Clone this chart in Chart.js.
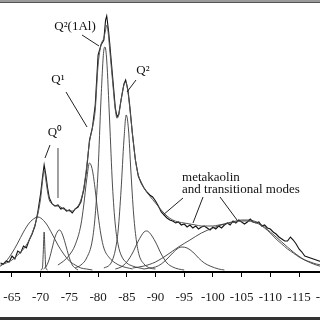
<!DOCTYPE html>
<html>
<head>
<meta charset="utf-8">
<script src="https://cdn.jsdelivr.net/npm/chart.js@4/dist/chart.umd.min.js"></script>
<style>
  html, body { margin: 0; padding: 0; background: #fff; }
  #wrap { position: relative; width: 320px; height: 320px; overflow: hidden; background: #fff; }
  #c { position: absolute; left: 0; top: 0; }
  #topband { position: absolute; left: 0; top: 0; width: 320px; height: 2px; background: #9a9a9a; border-bottom: 1px solid #555; }
  #botband { position: absolute; left: 0; top: 317px; width: 320px; height: 3px; background: #333; }
</style>
</head>
<body>
<div id="wrap">
  <canvas id="c" width="345" height="320"></canvas>
  <div id="topband"></div>
  <div id="botband"></div>
</div>
<script>
// ---- tick labels (chemical shift, ppm) ----
const tickValues = [-65, -70, -75, -80, -85, -90, -95, -100, -105, -110, -115, -120];

// ---- experimental spectrum ----
const expPpm = [-63,-63.5,-64,-64.5,-65,-65.5,-66,-66.5,-67,-67.5,-68,-68.5,-69,-69.5,-70,-70.3,-70.6,-70.9,-71.2,-71.5,-72,-72.5,-73,-73.5,-74,-74.5,-75,-75.5,-76,-76.5,-77,-77.5,-78,-78.5,-79,-79.5,-80,-80.5,-81,-81.3,-81.5,-81.8,-82,-82.5,-83,-83.3,-83.6,-84,-84.5,-84.8,-85.2,-85.5,-86,-86.5,-87,-87.5,-88,-88.5,-89,-89.5,-90,-90.5,-91,-91.5,-92,-92.5,-93,-93.5,-94,-94.5,-95,-95.5,-96,-96.5,-97,-97.5,-98,-98.5,-99,-99.5,-100,-100.5,-101,-101.5,-102,-102.5,-103,-103.5,-104,-104.5,-105,-105.5,-106,-106.5,-107,-107.5,-108,-108.5,-109,-109.5,-110,-110.5,-111,-111.5,-112,-112.5,-113,-113.5,-114,-114.5,-115,-115.5,-116,-116.5,-117,-117.5,-118,-118.5,-119];
const expInt = [7,6,9,8,14,11,19,17,24,22,30,36,44,58,77,92,105,95,82,72,66,64,65,61,62,59,60,57,61,63,68,80,100,130,142,165,215,225,230,250,254,240,228,195,162,153,156,170,186,190,180,165,135,110,94,87,82,78,75,73,69,64,58,55,52,50,49,47,48,45,46,43,45,42,44,41,43,44,42,40,43,41,44,42,45,47,45,49,47,50,48,46,48,51,48,47,48,44,45,42,41,38,36,33,31,29,29,33,30,26,21,18,14,13,12,11,10,9,8,8,7];

// ---- fitted sum ----
const fitPpm = [-63,-64,-65,-66,-67,-68,-69,-69.5,-70,-70.3,-70.6,-70.9,-71.2,-71.5,-72,-72.5,-73,-73.5,-74,-74.5,-75,-75.5,-76,-76.5,-77,-77.5,-78,-78.5,-79,-79.5,-80,-80.5,-81,-81.3,-81.5,-81.8,-82,-82.5,-83,-83.3,-83.6,-84,-84.5,-84.8,-85.2,-85.5,-86,-86.5,-87,-87.5,-88,-89,-90,-91,-92,-93,-94,-95,-96,-97,-98,-99,-100,-101,-102,-103,-104,-105,-106,-107,-108,-109,-110,-111,-112,-113,-114,-115,-116,-117,-118,-119];
const fitInt = [5,7,10,15,21,30,45,56,72,88,100,90,78,70,66,64,64,63,61,60,59,59,61,64,70,82,103,128,142,160,205,225,232,240,245,235,222,190,160,152,155,170,185,188,178,163,135,110,95,88,82,74,67,60,54,50,48,47,46,45,44,44,44,45,46,47,48,49,49,48,46,42,37,31,26,21,17,13,10,8,6,5];

// ---- fitted components ----
const c1Ppm = [-62,-63,-64,-65,-66,-67,-68,-69,-69.5,-70,-71,-72,-73,-74,-75,-76,-77,-78,-79];
const c1Int = [2,4,9,17,27,38,47,52,53,52,46,36,25,16,9,5,2,1,0];
const c2Ppm = [-70,-70.3,-70.45,-70.6,-70.75,-70.9,-71.2];
const c2Int = [0,2,18,38,18,2,0];
const c3Ppm = [-70.5,-71,-71.5,-72,-72.5,-73,-73.2,-73.5,-74,-74.5,-75,-75.5,-76,-76.5];
const c3Int = [1,4,11,22,33,39,40,39,32,22,12,5,2,0];
const q1Ppm = [-73,-74,-75,-76,-77,-77.5,-78,-78.5,-79,-79.5,-80,-80.5,-81,-82,-83,-84,-86];
const q1Int = [5,9,15,25,45,65,90,107,100,80,55,35,22,12,7,4,1];
const q2alPpm = [-76,-77,-78,-79,-79.5,-80,-80.5,-81,-81.2,-81.5,-82,-82.5,-83,-83.5,-84,-85,-86,-88];
const q2alInt = [2,5,12,30,55,100,170,220,223,210,150,85,45,25,15,7,4,1];
const q2Ppm = [-81,-82,-82.5,-83,-83.5,-84,-84.5,-84.9,-85.3,-85.7,-86.2,-86.7,-87.2,-88,-89,-90];
const q2Int = [2,5,10,20,40,80,130,155,140,100,55,28,14,6,2,1];
const c7Ppm = [-83,-84,-85,-86,-87,-88,-88.5,-89,-90,-91,-92,-93,-94,-95];
const c7Int = [1,3,8,17,29,38,39,37,28,16,7,3,1,0];
const c8Ppm = [-88,-89,-90,-91,-92,-93,-94,-94.6,-95.5,-96.5,-97.5,-98.5,-99.5,-101,-102];
const c8Int = [1,2,3,6,11,17,22,23,22,18,12,7,4,1,0];
const c9Ppm = [-86,-88,-90,-92,-94,-96,-98,-100,-102,-104,-105,-106,-108,-110,-112,-114,-116,-118,-120,-122];
const c9Int = [2,4,8,15,23,30,37,42,46,49,50,50,47,38,28,18,10,5,2,1];

const pts = (xs, ys) => xs.map((x, i) => ({ x: x, y: ys[i] }));

const compStyle = { borderColor: '#3a3a3a', borderWidth: 0.9, pointRadius: 0, fill: false, cubicInterpolationMode: 'monotone' };

const annotations = {
  texts: [
    { t: 'Q\u2070', x: -72.49, y: 137, align: 'center' },
    { t: 'Q\u00b9', x: -73.01, y: 190, align: 'center' },
    { t: 'Q\u00b2(1Al)', x: -75.98, y: 243, align: 'center' },
    { t: 'Q\u00b2', x: -87.82, y: 199, align: 'center' },
    { t: 'metakaolin', x: -94.62, y: 92, align: 'left' },
    { t: 'and transitional modes', x: -94.62, y: 80, align: 'left' }
  ],
  lines: [
    { a: [-71.62, 125], b: [-70.75, 112], c: '#222', w: 1 },
    { a: [-73.01, 122], b: [-73.01, 72], c: '#8a8a8a', w: 1.6 },
    { a: [-74.41, 178], b: [-78.07, 143], c: '#222', w: 1 },
    { a: [-77.2, 235], b: [-80.16, 224], c: '#222', w: 1 },
    { a: [-86.6, 190], b: [-85.03, 178], c: '#222', w: 1 },
    { a: [-94.79, 72], b: [-91.31, 55], c: '#222', w: 1 },
    { a: [-98.28, 73], b: [-96.53, 47], c: '#222', w: 1 },
    { a: [-101.24, 73], b: [-104.2, 50], c: '#222', w: 1 }
  ]
};

const annotPlugin = {
  id: 'annot',
  afterDatasetsDraw(chart) {
    const ctx = chart.ctx, xs = chart.scales.x, ys = chart.scales.y;
    ctx.save();
    annotations.lines.forEach(l => {
      ctx.beginPath();
      ctx.strokeStyle = l.c; ctx.lineWidth = l.w;
      ctx.moveTo(xs.getPixelForValue(l.a[0]), ys.getPixelForValue(l.a[1]));
      ctx.lineTo(xs.getPixelForValue(l.b[0]), ys.getPixelForValue(l.b[1]));
      ctx.stroke();
    });
    ctx.fillStyle = '#111';
    ctx.font = '13px "Liberation Serif", serif';
    ctx.textBaseline = 'middle';
    annotations.texts.forEach(tx => {
      ctx.textAlign = tx.align;
      ctx.fillText(tx.t, xs.getPixelForValue(tx.x), ys.getPixelForValue(tx.y));
    });
    ctx.restore();
  }
};

new Chart(document.getElementById('c'), {
  type: 'line',
  data: {
    datasets: [
      Object.assign({ label: 'C1', data: pts(c1Ppm, c1Int) }, compStyle),
      Object.assign({ label: 'C2', data: pts(c2Ppm, c2Int) }, compStyle),
      Object.assign({ label: 'C3', data: pts(c3Ppm, c3Int) }, compStyle),
      Object.assign({ label: 'Q1', data: pts(q1Ppm, q1Int) }, compStyle),
      Object.assign({ label: 'Q2(1Al)', data: pts(q2alPpm, q2alInt) }, compStyle),
      Object.assign({ label: 'Q2', data: pts(q2Ppm, q2Int) }, compStyle),
      Object.assign({ label: 'C7', data: pts(c7Ppm, c7Int) }, compStyle),
      Object.assign({ label: 'C8', data: pts(c8Ppm, c8Int) }, compStyle),
      Object.assign({ label: 'C9', data: pts(c9Ppm, c9Int) }, compStyle),
      { label: 'fit', data: pts(fitPpm, fitInt), borderColor: '#555', borderWidth: 1, pointRadius: 0, fill: false, cubicInterpolationMode: 'monotone' },
      { label: 'experimental', data: pts(expPpm, expInt), borderColor: '#111', borderWidth: 1.1, pointRadius: 0, fill: false, tension: 0 }
    ]
  },
  options: {
    responsive: false,
    animation: false,
    devicePixelRatio: 1,
    layout: { padding: 0 },
    plugins: { legend: { display: false }, tooltip: { enabled: false } },
    scales: {
      x: {
        type: 'linear',
        reverse: true,
        min: -123.01,
        max: -62.91,
        afterBuildTicks: (s) => { s.ticks = tickValues.map(v => ({ value: v })); },
        afterFit: (s) => { s.paddingLeft = 0; s.paddingRight = 0; s.height = 48; },
        grid: { drawOnChartArea: false, drawTicks: true, tickLength: 5, color: '#000', lineWidth: 1 },
        border: { display: true, color: '#000', width: 2 },
        ticks: {
          autoSkip: false, maxRotation: 0, padding: 13, color: '#1a1a1a',
          font: { family: 'Liberation Serif', size: 13 },
          callback: (v) => String(v)
        }
      },
      y: { display: false, min: -2, max: 270 }
    }
  },
  plugins: [annotPlugin]
});
</script>
</body>
</html>
